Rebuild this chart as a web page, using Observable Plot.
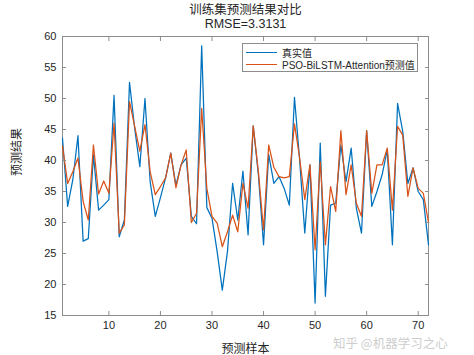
<!DOCTYPE html>
<html>
<head>
<meta charset="utf-8">
<script src="https://cdn.jsdelivr.net/npm/d3@7"></script>
<script src="https://cdn.jsdelivr.net/npm/@observablehq/plot@0.6"></script>
<style>
  body { margin: 0; background: #fff; }
  #wrap { position: relative; width: 474px; height: 355px; overflow: hidden; }
  .legend { position: absolute; left: 242px; top: 43px; width: 176px; height: 29px; border: 1px solid #8c8c8c; background: #fff; box-sizing: border-box; }
  .legend .row { position: absolute; left: 3px; height: 13px; display: flex; align-items: center; font: 10px "Liberation Sans", Arial, "Noto Sans CJK SC", sans-serif; color: #262626; white-space: nowrap; }
  .legend .sw { width: 31px; height: 1.5px; margin-right: 5px; }
  .wm { position: absolute; left: 333px; top: 335px; font: 12.5px "Noto Sans CJK SC", sans-serif; color: #cdcdcd; white-space: nowrap; line-height: 16px; }
</style>
</head>
<body>
<div id="wrap"></div>
<script>
const sampleIndex = d3.range(1, 73);
const actualValues = [
  43.6, 32.6, 36.9, 44.0, 27.0, 27.4, 40.9, 32.0, 32.8, 33.7,
  50.5, 27.7, 30.4, 52.6, 45.2, 39.0, 50.0, 36.6, 31.0, 34.0,
  37.2, 41.2, 36.0, 39.3, 40.4, 31.0, 29.8, 58.5, 32.4, 30.7,
  25.3, 19.1, 25.3, 36.3, 30.4, 38.3, 28.0, 45.6, 37.7, 26.4,
  41.0, 36.3, 37.4, 35.5, 32.8, 50.2, 40.1, 28.3, 39.3, 17.0,
  42.8, 18.1, 32.8, 33.1, 42.5, 36.6, 42.0, 32.3, 28.3, 44.8,
  32.6, 35.0, 37.7, 41.7, 26.4, 49.2, 44.7, 36.3, 38.8, 35.0,
  33.7, 26.4
];
const predictedValues = [
  42.3, 36.3, 38.2, 40.4, 33.4, 30.4, 42.5, 34.6, 36.7, 34.7,
  46.0, 28.3, 29.6, 49.5, 45.5, 41.5, 45.8, 38.2, 34.5, 35.8,
  37.2, 41.2, 35.6, 39.3, 41.7, 30.0, 31.5, 48.4, 35.5, 31.0,
  29.9, 26.1, 28.5, 31.2, 28.5, 36.3, 32.3, 45.6, 38.2, 28.8,
  42.5, 38.9, 37.4, 37.2, 37.4, 45.9, 40.4, 33.7, 39.3, 25.6,
  39.8, 26.4, 35.8, 31.8, 44.8, 34.5, 39.3, 33.1, 31.0, 44.8,
  34.7, 39.3, 39.3, 42.0, 32.0, 45.5, 44.1, 34.2, 38.8, 35.5,
  34.7, 30.0
];
const seriesNames = ["真实值", "PSO-BiLSTM-Attention预测值"];
const seriesColors = ["#0072BD", "#D95319"];
const xTicks = [10, 20, 30, 40, 50, 60, 70];
const yTicks = [15, 20, 25, 30, 35, 40, 45, 50, 55, 60];
const titleText = "训练集预测结果对比";
const subtitleText = "RMSE=3.3131";
const xLabel = "预测样本";
const yLabel = "预测结果";
const watermarkText = "知乎 @机器学习之心";

const rows = [];
seriesNames.forEach((s, j) => {
  const vals = j === 0 ? actualValues : predictedValues;
  sampleIndex.forEach((x, k) => rows.push({x, y: vals[k], series: s}));
});

const axisColor = "#8c8c8c";
const textColor = "#262626";
const cjk = "'Noto Sans CJK SC', sans-serif";

const chart = Plot.plot({
  width: 474,
  height: 355,
  marginLeft: 62,
  marginRight: 46,
  marginTop: 36,
  marginBottom: 40,
  style: {fontFamily: "'Liberation Sans', Arial, sans-serif", fontSize: "11px", color: textColor, background: "#fff"},
  x: {domain: [1, 72]},
  y: {domain: [15, 60]},
  color: {domain: seriesNames, range: seriesColors},
  marks: [
    Plot.frame({stroke: axisColor}),
    Plot.line(rows, {x: "x", y: "y", z: "series", stroke: "series", strokeWidth: 1.25}),
    Plot.axisX({anchor: "bottom", ticks: xTicks, tickSize: -4, tickPadding: 10, label: null, stroke: axisColor, fill: textColor, fontSize: 11}),
    Plot.axisX({anchor: "top", ticks: xTicks, tickSize: -4, tickFormat: () => "", label: null, stroke: axisColor}),
    Plot.axisY({anchor: "left", ticks: yTicks, tickSize: -4, tickPadding: 10, label: null, stroke: axisColor, fill: textColor, fontSize: 11}),
    Plot.axisY({anchor: "right", ticks: yTicks, tickSize: -4, tickFormat: () => "", label: null, stroke: axisColor}),
    Plot.text([titleText], {frameAnchor: "top", dy: -31, fontSize: 12.5, fontFamily: cjk, fill: textColor}),
    Plot.text([subtitleText], {frameAnchor: "top", dy: -17.5, fontSize: 12.5, fill: textColor}),
    Plot.text([xLabel], {frameAnchor: "bottom", dy: 37, fontSize: 12, fontFamily: cjk, fill: textColor}),
    Plot.text([yLabel], {frameAnchor: "left", dx: -45, rotate: -90, fontSize: 12, fontFamily: cjk, fill: textColor})
  ]
});

const wrap = document.getElementById("wrap");
wrap.appendChild(chart);

const legend = document.createElement("div");
legend.className = "legend";
seriesNames.forEach((s, j) => {
  const row = document.createElement("div");
  row.className = "row";
  row.style.top = (j === 0 ? 2 : 14) + "px";
  const sw = document.createElement("span");
  sw.className = "sw";
  sw.style.background = seriesColors[j];
  const t = document.createElement("span");
  t.textContent = s;
  row.appendChild(sw);
  row.appendChild(t);
  legend.appendChild(row);
});
wrap.appendChild(legend);

const wm = document.createElement("div");
wm.className = "wm";
wm.textContent = watermarkText;
wrap.appendChild(wm);
</script>
</body>
</html>
